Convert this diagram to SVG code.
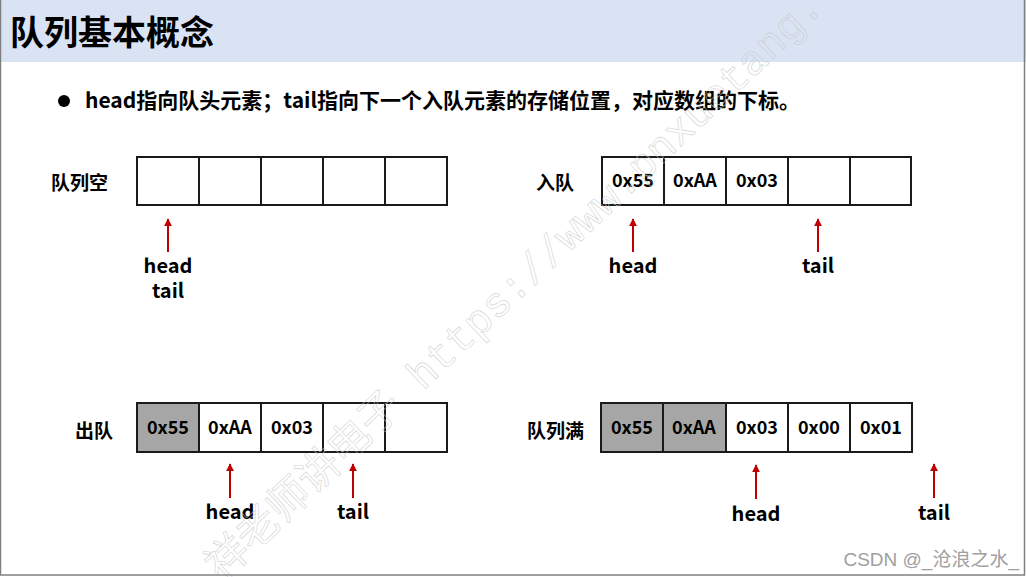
<svg xmlns="http://www.w3.org/2000/svg" width="1026" height="577" viewBox="0 0 1026 577">
<style>
.t{font-family:"Noto Sans CJK SC","Noto Sans",sans-serif;font-weight:bold;fill:#000}
.lbl{font-size:19px}
.cell{fill:#fff;stroke:#1a1a1a;stroke-width:2}
.g{fill:#a6a6a6}
.v{font-size:18px;text-anchor:middle}
.p{font-size:20px;text-anchor:middle}
.arr{stroke:#c00000;stroke-width:2;fill:none;marker-end:url(#ah)}
.wm{font-family:"Liberation Mono","Noto Sans CJK SC",monospace;font-size:42px;fill:none;stroke:#c8c8c8;stroke-width:0.6;opacity:0.8}
</style>
<defs>
<marker id="ah" viewBox="0 0 10 10" refX="9" refY="5" markerWidth="4" markerHeight="4" orient="auto" markerUnits="strokeWidth">
<path d="M0,0 L10,5 L0,10 z" fill="#c00000"/>
</marker>
</defs>
<rect x="0" y="0" width="1026" height="577" fill="#fff"/>
<rect x="0" y="0" width="1026" height="62" fill="#dae3f3"/>
<text class="t" x="10" y="45" font-size="34">队列基本概念</text>
<circle cx="64" cy="101" r="6" fill="#000"/>
<text class="t" x="85" y="108" font-size="21">head指向队头元素；tail指向下一个入队元素的存储位置，对应数组的下标。</text>

<g id="q-empty">
<text class="t lbl" x="51" y="190">队列空</text>
<rect class="cell" x="137" y="157" width="62" height="48"/>
<rect class="cell" x="199" y="157" width="62" height="48"/>
<rect class="cell" x="261" y="157" width="62" height="48"/>
<rect class="cell" x="323" y="157" width="62" height="48"/>
<rect class="cell" x="385" y="157" width="62" height="48"/>
<text class="t p" x="168" y="273">head</text>
<text class="t p" x="168" y="298">tail</text>
</g>

<g id="q-enqueue">
<text class="t lbl" x="536" y="190">入队</text>
<rect class="cell" x="602" y="157" width="62" height="48"/>
<rect class="cell" x="664" y="157" width="62" height="48"/>
<rect class="cell" x="726" y="157" width="62" height="48"/>
<rect class="cell" x="788" y="157" width="62" height="48"/>
<rect class="cell" x="850" y="157" width="61" height="48"/>
<text class="t v" x="633" y="187">0x55</text>
<text class="t v" x="695" y="187">0xAA</text>
<text class="t v" x="757" y="187">0x03</text>
<text class="t p" x="633" y="273">head</text>
<text class="t p" x="818" y="273">tail</text>
</g>

<g id="q-dequeue">
<text class="t lbl" x="75" y="438">出队</text>
<rect class="cell g" x="137" y="403" width="62" height="49"/>
<rect class="cell" x="199" y="403" width="62" height="49"/>
<rect class="cell" x="261" y="403" width="62" height="49"/>
<rect class="cell" x="323" y="403" width="62" height="49"/>
<rect class="cell" x="385" y="403" width="62" height="49"/>
<text class="t v" x="168" y="434">0x55</text>
<text class="t v" x="230" y="434">0xAA</text>
<text class="t v" x="292" y="434">0x03</text>
<text class="t p" x="230" y="519">head</text>
<text class="t p" x="353" y="519">tail</text>
</g>

<g id="q-full">
<text class="t lbl" x="527" y="438">队列满</text>
<rect class="cell g" x="601" y="403" width="62" height="49"/>
<rect class="cell g" x="663" y="403" width="63" height="49"/>
<rect class="cell" x="726" y="403" width="62" height="49"/>
<rect class="cell" x="788" y="403" width="62" height="49"/>
<rect class="cell" x="850" y="403" width="62" height="49"/>
<text class="t v" x="632" y="434">0x55</text>
<text class="t v" x="694" y="434">0xAA</text>
<text class="t v" x="757" y="434">0x03</text>
<text class="t v" x="819" y="434">0x00</text>
<text class="t v" x="881" y="434">0x01</text>
<text class="t p" x="756" y="521">head</text>
<text class="t p" x="934" y="520">tail</text>
</g>

<g id="connectors">
<line class="arr" x1="168" y1="252" x2="168" y2="219"/>
<line class="arr" x1="633" y1="252" x2="633" y2="219"/>
<line class="arr" x1="818" y1="252" x2="818" y2="219"/>
<line class="arr" x1="230" y1="498" x2="230" y2="464"/>
<line class="arr" x1="353" y1="498" x2="353" y2="464"/>
<line class="arr" x1="756" y1="499" x2="756" y2="465"/>
<line class="arr" x1="934" y1="498" x2="934" y2="464"/>
</g>

<text class="wm" x="222" y="582" transform="rotate(-43.5 222 582)">祥老师讲电子 https://www.pnxuetang.</text>
<text x="1019" y="566" font-family="Liberation Sans,Noto Sans CJK SC,sans-serif" font-size="19" fill="#a0a0a0" text-anchor="end">CSDN @_沧浪之水_</text>
<rect x="0.5" y="-1" width="1024" height="576" fill="none" stroke="#808080" stroke-width="1.5"/>
</svg>
